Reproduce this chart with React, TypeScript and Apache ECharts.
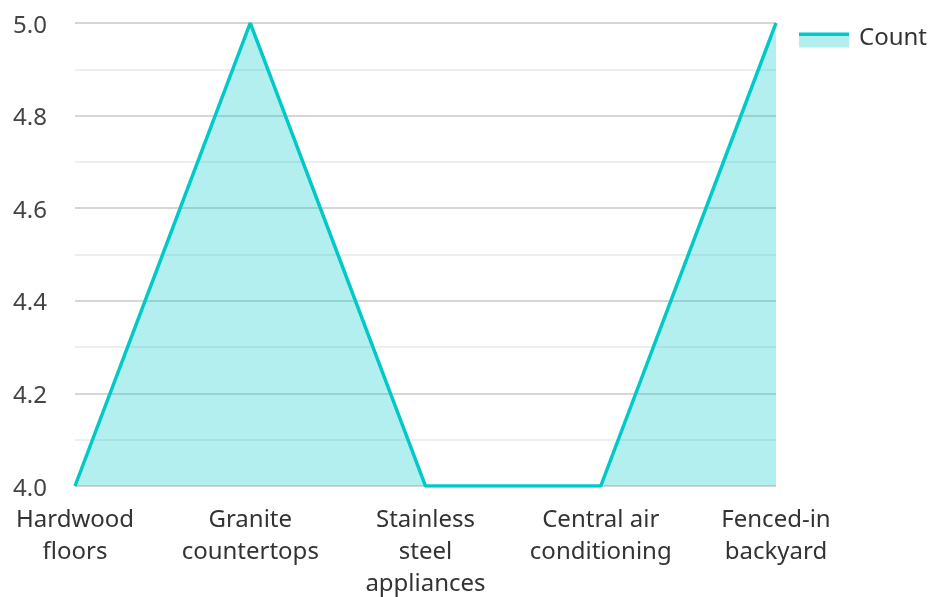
import React, { useEffect, useRef } from "react";
import * as echarts from "echarts";

const categories = [
  "Hardwood\nfloors",
  "Granite\ncountertops",
  "Stainless\nsteel\nappliances",
  "Central air\nconditioning",
  "Fenced-in\nbackyard",
];
const counts = [4, 5, 4, 4, 5];
const seriesName = "Count";

export default function App() {
  const ref = useRef<HTMLDivElement>(null);
  useEffect(() => {
    if (!ref.current) return;
    const chart = echarts.init(ref.current, undefined, { renderer: "svg" });
    const font = "'Noto Sans', sans-serif";
    const teal = "#00c9c7";
    const light = "#b2efee";
    chart.setOption({
      animation: false,
      textStyle: { fontFamily: font },
      legend: {
        data: [{ name: seriesName, icon: "rect" }],
        right: 1,
        top: 18,
        itemWidth: 50,
        itemHeight: 15,
        itemGap: 10,
        itemStyle: {
          color: {
            type: "linear",
            x: 0,
            y: 0,
            x2: 0,
            y2: 1,
            colorStops: [
              { offset: 0, color: teal },
              { offset: 0.24, color: teal },
              { offset: 0.25, color: light },
              { offset: 1, color: light },
            ],
          },
        },
        lineStyle: { opacity: 0 },
        formatter: "{a|{name}}",
        textStyle: {
          fontSize: 24,
          color: "#333",
          fontFamily: font,
          rich: {
            a: {
              fontSize: 24,
              color: "#333",
              fontFamily: font,
              padding: [0, 0, 10, 5],
            },
          },
        },
      },
      grid: { left: 75, right: 157, top: 23, bottom: 104, containLabel: false },
      xAxis: {
        type: "category",
        data: categories,
        boundaryGap: false,
        axisLine: { show: false },
        axisTick: { show: false },
        axisLabel: {
          fontSize: 24,
          color: "#333",
          lineHeight: 32,
          margin: 15,
          interval: 0,
          fontFamily: font,
        },
      },
      yAxis: {
        type: "value",
        min: 4,
        max: 5,
        interval: 0.2,
        axisLine: { show: false },
        axisTick: { show: false },
        axisLabel: {
          fontSize: 24,
          lineHeight: 20,
          color: "#444",
          margin: 28,
          fontFamily: font,
          formatter: (v: number) => v.toFixed(1),
        },
        splitLine: { show: true, lineStyle: { color: "#c8c8c8", width: 1.5 } },
        minorTick: { show: false, splitNumber: 2 },
        minorSplitLine: { show: true, lineStyle: { color: "#e8e8e8", width: 1.5 } },
      },
      series: [
        {
          name: seriesName,
          type: "line",
          data: counts,
          symbol: "none",
          lineStyle: { color: teal, width: 3.5 },
          itemStyle: { color: teal },
          areaStyle: { color: teal, opacity: 0.3 },
        },
      ],
    });
    return () => chart.dispose();
  }, []);
  return (
    <div
      ref={ref}
      style={{ position: "fixed", left: 0, top: 0, width: 933, height: 597 }}
    />
  );
}
